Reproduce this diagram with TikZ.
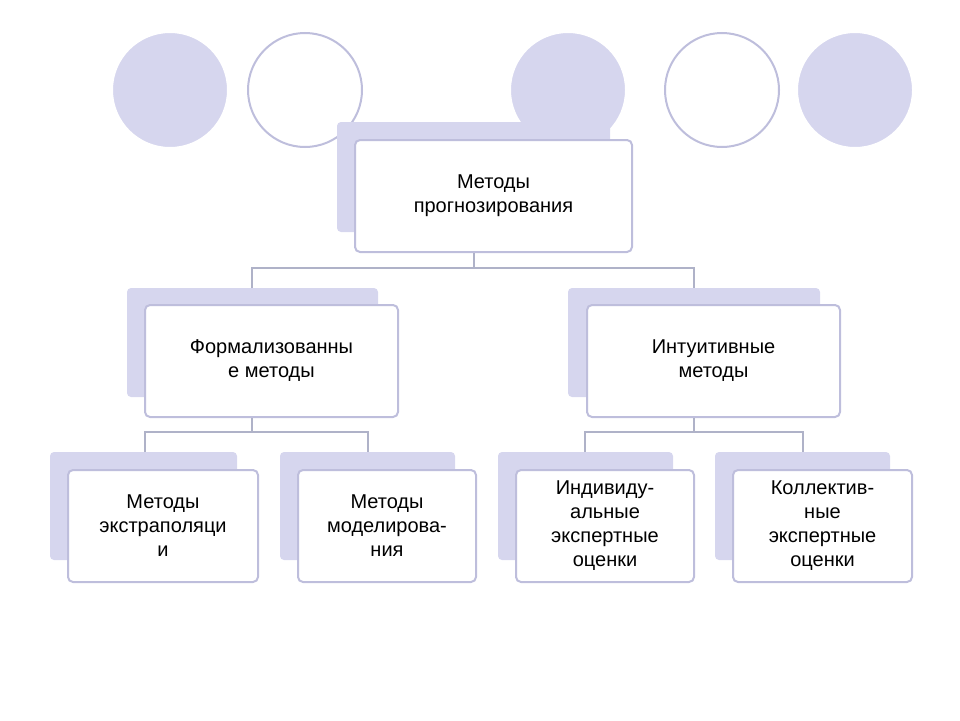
\documentclass[tikz,border=0pt]{standalone}
\usepackage{fontspec}
\setmainfont{Liberation Sans}
\definecolor{Lilac}{RGB}{214,214,238}
\definecolor{LilacLine}{RGB}{190,190,220}
\definecolor{LinkGray}{RGB}{175,178,200}
\begin{document}
\begin{tikzpicture}[x=1pt,y=1pt,yscale=-1,xscale=1,
	disc/.style={fill=Lilac, draw=white, line width=2pt},
	ring/.style={fill=white, draw=LilacLine, line width=2pt},
	backbox/.style={fill=Lilac, rounded corners=4pt},
	frontbox/.style={fill=white, draw=LilacLine, line width=2pt, rounded corners=5pt,
		align=center, font=\fontsize{20}{24}\selectfont},
	link/.style={draw=LinkGray, line width=1.6pt}]
		\useasboundingbox (0,0) rectangle (960,720);

		% Circles along the top
		\draw[disc] (170,90) circle (58);
		\draw[ring] (305,90) circle (57);
		\draw[disc] (568,90) circle (58);
		\draw[ring] (722,90) circle (57);
		\draw[disc] (855,90) circle (58);

		% Back plates
		\fill[backbox] (337,122) rectangle (610,232);
		\fill[backbox] (127,288) rectangle (378,397);
		\fill[backbox] (568,288) rectangle (820,397);
		\fill[backbox] (50,452) rectangle (237,560);
		\fill[backbox] (280,452) rectangle (455,560);
		\fill[backbox] (498,452) rectangle (673,560);
		\fill[backbox] (715,452) rectangle (890,560);

		% Front boxes
		\node[frontbox, minimum width=277, minimum height=112] (root) at (493.5,196) {Методы\\прогнозирования};
		\node[frontbox, minimum width=253, minimum height=112] (formal) at (271.5,361) {Формализованны\\е методы};
		\node[frontbox, minimum width=253, minimum height=112] (intuit) at (713.5,361) {Интуитивные\\методы};
		\node[frontbox, minimum width=190, minimum height=112] (extrap) at (163,526) {Методы\\экстраполяци\\и};
		\node[frontbox, minimum width=178, minimum height=112] (model) at (387,526) {Методы\\моделирова-\\ния};
		\node[frontbox, minimum width=178, minimum height=112] (indiv) at (605,526) {Индивиду-\\альные\\экспертные\\оценки};
		\node[frontbox, minimum width=179, minimum height=112] (collect) at (822.5,526) {Коллектив-\\ные\\экспертные\\оценки};

		% Connectors
		\coordinate (busA) at (474,268);
		\coordinate (busB) at (252,432);
		\coordinate (busC) at (694,432);
		\draw[link] (root.south -| busA) -- (busA);
		\draw[link] (252,288) -- (252,268) -- (694,268) -- (694,288);
		\draw[link] (formal.south -| busB) -- (busB);
		\draw[link] (145,452) -- (145,432) -- (368,432) -- (368,452);
		\draw[link] (intuit.south -| busC) -- (busC);
		\draw[link] (585,452) -- (585,432) -- (803,432) -- (803,452);
\end{tikzpicture}
\end{document}
